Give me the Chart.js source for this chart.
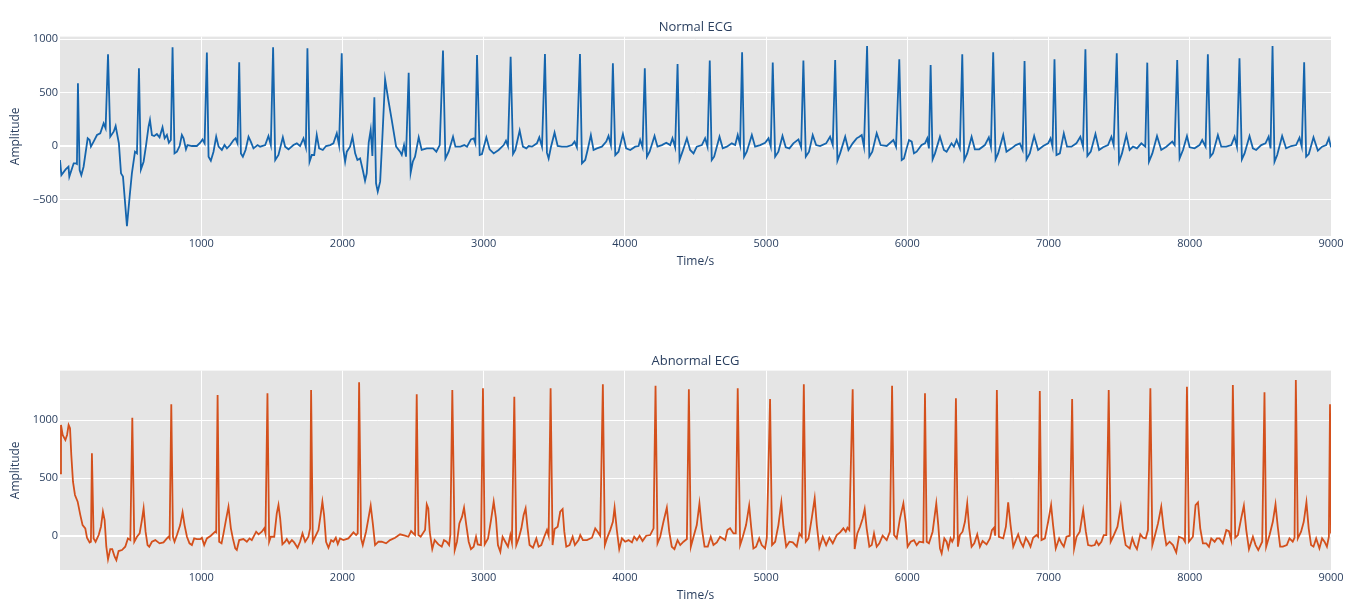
<!DOCTYPE html>
<html>
<head>
<meta charset="utf-8">
<script src="https://cdn.jsdelivr.net/npm/chart.js@4.4.1/dist/chart.umd.min.js"></script>
<style>
  html, body { margin: 0; background: #fff; overflow: hidden; width: 1358px; height: 607px; }
  .plot { position: absolute; left: 0; }
  #top { top: 0; }
  #bottom { top: 334px; }
</style>
</head>
<body>
<div class="plot" id="top"><canvas id="normal" width="1358" height="276"></canvas></div>
<div class="plot" id="bottom"><canvas id="abnormal" width="1358" height="276"></canvas></div>
<script>
const timeTicks = [1000, 2000, 3000, 4000, 5000, 6000, 7000, 8000, 9000];
const normalTicks = [-500, 0, 500, 1000];
const abnormalTicks = [0, 500, 1000];

// values, sample by sample
const normalTime = [
  0, 10, 40, 60, 66, 97, 110, 120, 127, 139, 151, 167, 196, 210, 219, 238, 262, 285, 309, 323,
  340, 356, 380, 394, 417, 432, 446, 474, 493, 509, 531, 545, 559, 573, 592, 608, 627, 637, 651, 667,
  686, 705, 726, 741, 757, 771, 785, 797, 811, 828, 847, 863, 875, 892, 903, 934, 969, 993, 1009, 1024,
  1040, 1052, 1068, 1087, 1106, 1123, 1146, 1165, 1182, 1205, 1229, 1243, 1257, 1269, 1281, 1295, 1314, 1335, 1351, 1370,
  1399, 1417, 1453, 1476, 1493, 1509, 1524, 1547, 1578, 1594, 1618, 1653, 1677, 1700, 1724, 1741, 1752, 1767, 1783, 1800,
  1818, 1835, 1861, 1884, 1913, 1936, 1960, 1976, 1995, 2007, 2019, 2031, 2054, 2071, 2090, 2106, 2125, 2144, 2160, 2172,
  2186, 2200, 2212, 2226, 2238, 2250, 2267, 2283, 2302, 2325, 2349, 2380, 2408, 2420, 2436, 2450, 2469, 2483, 2498, 2514,
  2540, 2561, 2597, 2642, 2665, 2689, 2712, 2729, 2752, 2783, 2800, 2835, 2863, 2882, 2910, 2929, 2941, 2953, 2972, 2988,
  3019, 3042, 3071, 3106, 3142, 3158, 3172, 3191, 3208, 3224, 3255, 3278, 3302, 3319, 3342, 3377, 3394, 3413, 3434, 3448,
  3460, 3476, 3502, 3524, 3554, 3590, 3625, 3644, 3660, 3682, 3696, 3719, 3736, 3759, 3778, 3802, 3837, 3868, 3884, 3901,
  3915, 3932, 3955, 3986, 4009, 4038, 4073, 4097, 4108, 4125, 4141, 4156, 4175, 4210, 4231, 4262, 4293, 4321, 4337, 4356,
  4373, 4387, 4408, 4439, 4462, 4486, 4509, 4545, 4568, 4585, 4601, 4615, 4632, 4670, 4693, 4722, 4757, 4781, 4799, 4816,
  4830, 4844, 4863, 4899, 4922, 4958, 4993, 5017, 5033, 5047, 5064, 5087, 5116, 5139, 5165, 5193, 5229, 5248, 5264, 5281,
  5304, 5330, 5354, 5382, 5425, 5453, 5472, 5489, 5505, 5524, 5560, 5583, 5613, 5641, 5660, 5677, 5693, 5715, 5731, 5752,
  5783, 5811, 5854, 5901, 5920, 5943, 5960, 5976, 5995, 6012, 6031, 6047, 6066, 6101, 6125, 6141, 6153, 6165, 6179, 6196,
  6231, 6259, 6278, 6313, 6330, 6349, 6372, 6389, 6403, 6424, 6455, 6478, 6509, 6549, 6577, 6592, 6608, 6625, 6643, 6679,
  6702, 6738, 6768, 6797, 6816, 6830, 6844, 6867, 6898, 6926, 6962, 6997, 7014, 7028, 7042, 7056, 7080, 7108, 7131, 7162,
  7197, 7225, 7244, 7261, 7275, 7299, 7332, 7358, 7386, 7421, 7445, 7461, 7483, 7499, 7520, 7551, 7574, 7598, 7626, 7657,
  7685, 7699, 7711, 7735, 7768, 7798, 7834, 7876, 7893, 7911, 7928, 7952, 7980, 7999, 8034, 8069, 8088, 8112, 8128, 8145,
  8164, 8199, 8223, 8258, 8294, 8317, 8334, 8352, 8369, 8388, 8423, 8447, 8470, 8506, 8536, 8558, 8572, 8586, 8600, 8619,
  8654, 8682, 8718, 8753, 8777, 8793, 8810, 8824, 8843, 8876, 8907, 8937, 8966, 8985, 9000
];
const normalAmp = [
  -131, -272, -219, -194, -287, -162, -162, -169, 587, -225, -272, -194, 72, 56, -6, 41, 103, 119, 212, 166,
  859, 87, 134, 187, 25, -256, -287, -750, -475, -256, -53, -69, 728, -219, -147, -6, 181, 244, 103, 94,
  112, 81, 175, 72, 103, 31, 56, 925, -69, -53, 0, 103, 72, -31, 9, 0, 0, 31, 62, 25,
  875, -100, -137, -53, 87, -6, -37, 9, -22, 9, 56, 72, 25, 784, -69, -100, -37, 87, 41, -22,
  9, -6, 9, 94, 9, 925, -131, -84, 81, -6, -31, 9, 25, 0, 72, -12, 915, -147, -84, -84,
  103, -22, -37, 0, 9, 25, 119, 9, 869, -37, -147, -53, -6, 87, -69, -131, -116, -225, -325, -256,
  31, 150, -94, 456, -350, -428, -334, 87, 625, 431, 244, -6, -53, -84, 9, -100, 687, -250, -147, -100,
  81, -37, -22, -22, -53, 9, 894, -116, -53, 87, -6, -6, 9, -6, 62, 72, 25, 853, -84, -75,
  81, -31, -69, -37, 9, 50, 0, 837, -75, -37, 144, -6, -22, 0, -6, 25, 81, -6, 862, -62,
  -116, -12, 125, 0, -6, -6, 9, 41, -12, 862, -162, -131, -37, 103, -37, -22, -6, 41, 94, 9,
  775, -84, -53, 112, -22, -37, -6, 0, 56, -12, 728, -100, -53, 94, -6, 9, 31, 9, 72, -12,
  769, -131, -53, 72, -37, -69, -6, 9, 72, -6, 800, -131, -100, 87, -22, -6, 25, 9, 103, 9,
  878, -100, -53, 103, -6, 9, 31, 72, -6, 781, -100, -53, 94, -12, -22, 25, 62, -12, 800, -100,
  -53, 103, 9, 0, 25, 87, 9, 806, -137, -69, 87, -37, 25, 72, 87, 103, -6, 937, -100, -53,
  119, 9, 0, 56, -6, 812, -131, -116, -22, 56, 41, -69, -53, 9, 25, 72, -22, 759, -125, -69,
  87, -37, -53, 25, -6, 56, -22, 859, -131, -69, 87, -31, -31, 9, 81, -6, 878, -125, -69, 103,
  -53, -22, 9, 25, -37, 797, -125, -69, 94, -37, 0, 25, 72, -6, 812, -84, -69, 119, -6, -6,
  25, 87, -6, 906, -94, -53, 112, -37, -12, 9, 87, 9, 869, -147, -69, 103, -37, -6, -22, 25,
  -6, 781, -147, -69, 94, -37, -6, 41, 9, 806, -116, -37, 94, -12, -22, 9, 56, -6, 859, -100,
  -69, 103, -6, -6, 9, 87, -6, 822, -125, -69, 94, -22, -37, 9, 25, 87, -22, 937, -147, -84,
  94, -22, 0, 9, 78, -6, 784, -100, -75, 81, -44, -6, 9, 72, -12
];

const abnormalTime = [
  0, 7, 19, 38, 50, 61, 71, 80, 92, 106, 125, 144, 160, 179, 191, 210, 219, 226, 238, 252,
  274, 290, 304, 316, 328, 340, 356, 370, 387, 399, 415, 439, 462, 481, 498, 512, 526, 545, 564, 580,
  592, 606, 620, 632, 651, 675, 705, 733, 757, 769, 776, 788, 800, 811, 828, 851, 868, 882, 899, 917,
  934, 950, 969, 993, 1005, 1021, 1040, 1068, 1099, 1106, 1116, 1127, 1144, 1158, 1175, 1193, 1210, 1224, 1241, 1252,
  1269, 1299, 1323, 1342, 1358, 1389, 1406, 1429, 1446, 1455, 1469, 1481, 1493, 1517, 1535, 1547, 1559, 1575, 1594, 1606,
  1623, 1642, 1658, 1682, 1700, 1717, 1736, 1759, 1771, 1778, 1790, 1807, 1830, 1847, 1858, 1870, 1884, 1901, 1920, 1936,
  1953, 1967, 1983, 2007, 2042, 2078, 2097, 2108, 2118, 2132, 2144, 2167, 2184, 2200, 2215, 2231, 2255, 2278, 2309, 2337,
  2373, 2408, 2443, 2467, 2486, 2502, 2514, 2526, 2538, 2554, 2585, 2597, 2608, 2618, 2636, 2653, 2679, 2703, 2719, 2738,
  2755, 2764, 2778, 2795, 2811, 2828, 2847, 2861, 2877, 2894, 2910, 2929, 2946, 2958, 2981, 2995, 3007, 3031, 3052, 3071,
  3087, 3101, 3118, 3134, 3153, 3172, 3189, 3200, 3217, 3231, 3248, 3267, 3283, 3297, 3311, 3325, 3349, 3373, 3389, 3408,
  3429, 3448, 3460, 3474, 3488, 3502, 3524, 3542, 3559, 3571, 3585, 3608, 3630, 3646, 3672, 3684, 3703, 3731, 3767, 3790,
  3807, 3825, 3844, 3858, 3873, 3896, 3915, 3927, 3943, 3960, 3979, 4002, 4026, 4050, 4066, 4085, 4104, 4125, 4151, 4179,
  4203, 4217, 4231, 4250, 4273, 4297, 4314, 4332, 4351, 4373, 4392, 4415, 4439, 4453, 4467, 4486, 4509, 4528, 4545, 4564,
  4587, 4608, 4627, 4651, 4674, 4710, 4726, 4745, 4769, 4785, 4799, 4816, 4835, 4858, 4880, 4894, 4910, 4929, 4951, 4969,
  4993, 5005, 5028, 5042, 5064, 5087, 5108, 5123, 5142, 5165, 5189, 5217, 5236, 5253, 5267, 5281, 5300, 5323, 5344, 5359,
  5377, 5401, 5425, 5448, 5472, 5500, 5524, 5547, 5564, 5576, 5589, 5613, 5627, 5646, 5665, 5684, 5698, 5712, 5731, 5748,
  5764, 5783, 5802, 5825, 5854, 5877, 5892, 5906, 5925, 5948, 5972, 5988, 6002, 6024, 6047, 6066, 6085, 6113, 6125, 6137,
  6153, 6179, 6205, 6219, 6231, 6243, 6262, 6278, 6290, 6306, 6318, 6330, 6344, 6358, 6372, 6391, 6408, 6424, 6438, 6455,
  6474, 6495, 6514, 6533, 6561, 6585, 6599, 6613, 6622, 6634, 6648, 6679, 6698, 6714, 6731, 6750, 6773, 6785, 6801, 6820,
  6839, 6856, 6872, 6891, 6915, 6926, 6938, 6950, 6974, 6997, 7018, 7032, 7051, 7075, 7092, 7108, 7127, 7150, 7167, 7181,
  7198, 7221, 7245, 7264, 7280, 7303, 7327, 7339, 7355, 7374, 7391, 7409, 7426, 7440, 7457, 7488, 7511, 7527, 7546, 7575,
  7593, 7610, 7626, 7650, 7669, 7688, 7704, 7721, 7735, 7751, 7775, 7798, 7815, 7834, 7857, 7881, 7904, 7923, 7952, 7966,
  7980, 7994, 8022, 8041, 8058, 8074, 8093, 8117, 8136, 8152, 8176, 8192, 8211, 8234, 8259, 8277, 8293, 8305, 8322, 8341,
  8364, 8383, 8400, 8419, 8447, 8466, 8485, 8513, 8529, 8541, 8565, 8588, 8607, 8623, 8640, 8659, 8687, 8706, 8729, 8742,
  8751, 8765, 8788, 8807, 8826, 8842, 8859, 8876, 8895, 8918, 8937, 8954, 8971, 8985, 8993, 9000
];
const abnormalAmp = [
  540, 960, 873, 829, 873, 960, 931, 699, 468, 353, 295, 179, 92, 64, -17, -58, -52, 714, -23, -52,
  6, 78, 208, 136, -95, -205, -116, -116, -182, -211, -133, -124, -95, -23, -38, 1023, -52, -9, 20, 136,
  237, 35, -81, -95, -52, -38, -66, -58, -23, -9, -23, 1139, -9, -52, 6, 92, 202, 92, -9, -66,
  -81, -23, -29, -29, -17, -81, -23, 0, 35, 29, 1220, -52, -66, 20, 136, 251, 64, -23, -110, -124,
  -38, -29, -52, -23, -38, 35, 12, 35, 64, 20, 1234, -52, -9, -9, 194, 266, 150, -75, -52, -29,
  -66, -38, -58, -104, -52, 20, -52, -9, 64, 1263, -52, -9, 49, 194, 295, 179, -52, -104, -38, -52,
  -17, -72, -23, -38, -23, 29, 6, 20, 1329, -23, -81, 35, 150, 260, 107, -81, -52, -52, -66, -38,
  -17, 12, 0, -9, 40, 20, 6, 1225, 6, -9, 49, 272, 237, 35, -116, -38, -75, -95, -38, -52,
  -81, 6, 1263, -124, -52, 107, 165, 243, 92, -52, -116, -95, -9, -75, -81, 1277, -75, -23, 136, 295,
  150, -81, -139, -9, -52, -95, 6, -58, 1205, -81, -23, 64, 179, 237, 64, -81, -104, -23, -95, -81,
  -9, 49, 0, 1277, -81, 58, 78, 208, 231, 35, -95, -81, -9, -81, -38, 6, -38, -38, -17, 64,
  35, 0, 1312, -81, -23, 49, 121, 243, 49, -116, -23, -52, -38, -58, -9, -38, 0, -46, 0, 6,
  64, 1300, -66, -9, 121, 243, 35, -95, -116, -38, -81, -52, -29, 1269, -95, -9, 92, 280, 64, -95,
  -95, -9, -81, -58, -9, -38, 49, 64, 20, 20, 1277, -81, -9, 92, 260, 78, -110, -95, -23, -81,
  -110, -17, 1185, -81, -52, 92, 289, 78, -95, -52, -58, -95, 20, -9, 1312, -52, -23, 150, 324, 92,
  -104, -9, -81, -17, -66, 6, 29, 64, 35, 69, 49, 1269, -116, 20, 78, 150, 231, 64, -95, -81,
  20, -95, -66, 0, -38, 35, 1300, 6, -23, 150, 280, 121, -95, -52, -38, -81, -52, -58, 1234, -52,
  -66, 35, 280, 92, -110, -153, -23, -52, -110, -23, -52, -17, 1191, -95, 6, 35, 121, 280, 64, -95,
  -66, 12, -95, -46, -75, -23, 49, 69, 0, 1263, -9, -23, 78, 289, 92, -95, -23, 12, -52, -95,
  -17, -52, -95, -17, 6, -9, 1254, -38, -23, 121, 266, 92, -110, -23, -66, -95, -9, 0, 1185, -110,
  -9, 35, 222, 35, -81, -87, -81, -46, -81, -52, 6, 6, 1263, -52, -9, 78, 251, 64, -81, -110,
  -23, -81, -116, 12, -17, -23, 49, 1277, -81, -9, 107, 251, 64, -81, -52, -81, -144, -9, -23, -52,
  1292, -52, -9, 266, 289, 64, -66, -66, -95, -23, -52, -23, -23, -66, 49, 40, -38, 1306, -17, 6,
  150, 260, 49, -116, -9, -81, -124, -52, 1243, -95, 6, 121, 272, 78, -95, -95, -81, -23, -52, -17,
  1350, -23, 35, 121, 289, 64, -81, -95, -23, -110, -23, -52, -95, -9, 1139, 20
];

const INK = "#2a3f5f";
const FONT = "'Open Sans', 'DejaVu Sans', sans-serif";

const plotBg = {
  id: "plotBg",
  beforeDraw(chart) {
    const { ctx, chartArea: a } = chart;
    ctx.save();
    ctx.fillStyle = "#e5e5e5";
    ctx.fillRect(a.left, a.top, a.right - a.left, a.bottom - a.top);
    ctx.restore();
  },
};

// title centred over the plot area, the way plotly places it
const plotTitle = {
  id: "plotTitle",
  afterDraw(chart, args, opts) {
    const { ctx, chartArea: a } = chart;
    ctx.save();
    ctx.fillStyle = INK;
    ctx.font = `13px ${FONT}`;
    ctx.textAlign = "center";
    ctx.textBaseline = "middle";
    ctx.fillText(opts.text, (a.left + a.right) / 2, a.top - 9);
    ctx.restore();
  },
};

const toPoints = (xs, ys) => xs.map((x, i) => ({ x, y: ys[i] }));
const fixTicks = (vals) => (scale) => { scale.ticks = vals.map((v) => ({ value: v })); };
const tickText = (v) => String(v).replace("-", "\u2212");

function drawEcg(canvasId, title, xs, ys, color, yMin, yMax, yTicks) {
  return new Chart(document.getElementById(canvasId), {
    type: "line",
    data: { datasets: [{ data: toPoints(xs, ys), borderColor: color, borderWidth: 1.8,
      pointRadius: 0, tension: 0, fill: false }] },
    plugins: [plotBg, plotTitle],
    options: {
      responsive: false,
      animation: false,
      events: [],
      layout: { padding: { left: 0, right: 27, top: 36.6, bottom: 0 } },
      plugins: {
        legend: { display: false },
        tooltip: { enabled: false },
        title: { display: false },
        plotTitle: { text: title },
      },
      scales: {
        x: {
          type: "linear", min: 0, max: 9000,
          afterBuildTicks: fixTicks(timeTicks),
          afterFit: (s) => { s.height = 40; s.paddingLeft = 0; s.paddingRight = 0; },
          grid: { color: "#ffffff", lineWidth: 1, drawTicks: false },
          border: { display: false },
          ticks: { color: INK, font: { family: FONT, size: 11 }, padding: 1, maxRotation: 0,
            autoSkip: false, callback: tickText },
          title: { display: true, text: "Time/s", color: INK, font: { family: FONT, size: 12 },
            padding: { top: 0, bottom: 7 } },
        },
        y: {
          min: yMin, max: yMax,
          afterBuildTicks: fixTicks(yTicks),
          afterFit: (s) => { s.width = 60; },
          grid: { color: "#ffffff", drawTicks: false,
            lineWidth: (c) => (c.tick && c.tick.value === 0 ? 2 : 1) },
          border: { display: false },
          ticks: { color: INK, font: { family: FONT, size: 11 }, padding: 2, callback: tickText },
          title: { display: true, text: "Amplitude", color: INK, font: { family: FONT, size: 12 },
            padding: { top: 8, bottom: 0 } },
        },
      },
    },
  });
}

drawEcg("normal", "Normal ECG", normalTime, normalAmp, "#1565ad", -843, 1025, normalTicks);
drawEcg("abnormal", "Abnormal ECG", abnormalTime, abnormalAmp, "#d4501c", -297, 1431, abnormalTicks);
</script>
</body>
</html>
